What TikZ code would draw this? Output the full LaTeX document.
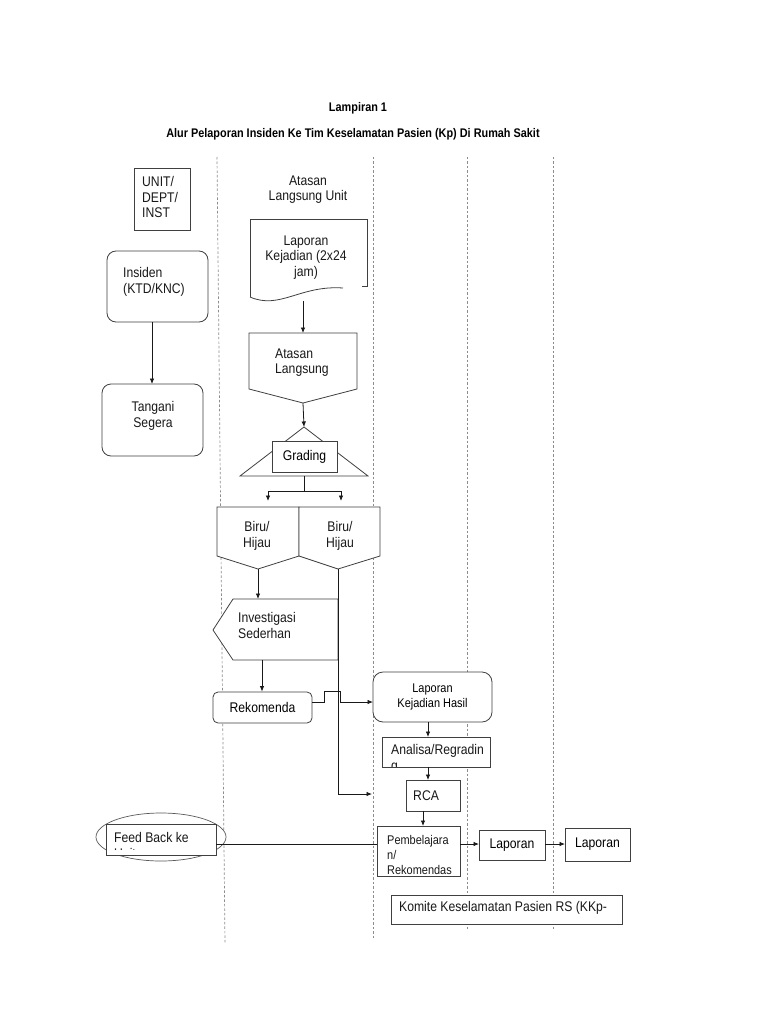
\documentclass[tikz,border=0pt]{standalone}
\usepackage{fontspec}
\setmainfont{Liberation Sans}[FakeStretch=0.87]
\usetikzlibrary{arrows.meta}
\newcommand\bodyf{\fontsize{14}{15.5}\selectfont}
\newcommand\smallf{\fontsize{12.6}{15}\selectfont}
\newcommand\titlef{\fontsize{12.5}{15}\selectfont\bfseries}
\begin{document}
\begin{tikzpicture}[x=1pt,y=-1pt,
  shp/.style={draw=black!75,line width=0.8pt,fill=white},
  rbox/.style={shp,rectangle,inner sep=0pt,font=\bodyf},
  rrbox/.style={rbox,rounded corners=7pt},
  lane/.style={draw=black!45,line width=0.7pt,dash pattern=on 2.5pt off 2pt},
  ln/.style={draw=black!90,line width=0.8pt},
  arr/.style={ln,-{Latex[length=5.5pt,width=4.5pt]}},
  txt/.style={inner sep=0pt,font=\bodyf,align=left,anchor=north west,text=black!90},
  ctxt/.style={inner sep=0pt,font=\bodyf,align=center,anchor=north,text=black!90}]
\useasboundingbox (0,0) rectangle (768,1024);
\fill[white] (0,0) rectangle (768,1024);

% swimlane separators
\coordinate (l1t) at (217,157); \coordinate (l1b) at (225,944);
\coordinate (l2t) at (373,157); \coordinate (l2b) at (373,938);
\coordinate (l3t) at (467,157); \coordinate (l3b) at (467,930);
\coordinate (l4t) at (553,157); \coordinate (l4b) at (553,930);
\draw[lane] (l1t) -- (l1b);
\draw[lane] (l2t) -- (l2b);
\draw[lane] (l3t) -- (l3b);
\draw[lane] (l4t) -- (l4b);

% titles
\node[inner sep=0pt,font=\titlef,anchor=base] (t1) at (358,112) {Lampiran 1};
\node[inner sep=0pt,font=\titlef,anchor=base] (t2) at (353,138) {Alur Pelaporan Insiden Ke Tim Keselamatan Pasien (Kp) Di Rumah Sakit};

% unit column
\node[rbox,minimum width=56,minimum height=62] (unit) at (162,199) {};
\node[txt] (unitT) at (142,176.5) {UNIT/\\DEPT/\\INST};
\node[rrbox,rounded corners=9pt,minimum width=101,minimum height=71] (ins) at (157.5,286.5) {};
\node[txt] (insT) at (123,267.5) {Insiden\\(KTD/KNC)};
\node[rrbox,rounded corners=9pt,minimum width=101,minimum height=72] (tan) at (152.5,420) {};
\node[ctxt] (tanT) at (153,401.5) {Tangani\\Segera};
\coordinate (insB) at (152,322);
\coordinate (tanT0) at (152,384);
\draw[arr] (insB) -- (tanT0);

% header of second lane
\node[ctxt] (hdr) at (308,175.5) {Atasan\\Langsung Unit};

% document shape
\fill[white] (250,219) -- (367,219) -- (367,288) -- (343,288) .. controls (300,285) and (280,310) .. (250,297) -- cycle;
\draw[draw=black!75,line width=0.8pt] (250,297) -- (250,219) -- (367,219) -- (367,286) -- (362,286);
\draw[draw=black!75,line width=0.8pt] (250,297) .. controls (280,310) and (300,285) .. (343,288);
\node[ctxt] (docT) at (306,235.5) {Laporan\\Kejadian (2x24\\jam)};
\coordinate (docB) at (303,301);

% Atasan Langsung (off-page shape)
\draw[shp] (249,333) -- (357,333) -- (357,389) -- (303,403) -- (249,389) -- cycle;
\coordinate (atT) at (303,333);
\coordinate (atB) at (303,403);
\node[txt] (atTx) at (275,348.5) {Atasan\\Langsung};

% Grading
\draw[shp] (304,427) -- (368,476) -- (240,476) -- cycle;
\coordinate (grA) at (304,427);
\coordinate (grB) at (304,476);
\node[rbox,minimum width=65,minimum height=31] (grading) at (304.5,456.5) {Grading};
\coordinate (sp) at (304,491);
\coordinate (spL) at (268,491);
\coordinate (spR) at (341,491);
\coordinate (b1T) at (268,501);
\coordinate (b2T) at (341,501);

% Biru / Hijau
\draw[shp] (217,507) -- (299,507) -- (299,556) -- (258,569) -- (217,556) -- cycle;
\draw[shp] (299,507) -- (380,507) -- (380,556) -- (338,569) -- (299,556) -- cycle;
\node[ctxt] (b1Tx) at (257,521.5) {Biru/\\Hijau};
\node[ctxt] (b2Tx) at (340,521.5) {Biru/\\Hijau};
\coordinate (b1B) at (258,569);
\coordinate (b2B) at (338,569);

% Investigasi
\draw[shp] (213,630) -- (233,599) -- (338,599) -- (338,660) -- (233,660) -- cycle;
\node[txt] (invT) at (238,612.5) {Investigasi\\Sederhan};
\coordinate (invTop) at (258,599);
\coordinate (invB) at (262,660);

% Rekomenda
\node[rrbox,rounded corners=5pt,minimum width=99,minimum height=31] (rek) at (262.5,707.5) {Rekomenda};
\coordinate (rekE) at (312,702);

% Laporan Kejadian Hasil
\node[rrbox,rounded corners=10pt,minimum width=119,minimum height=50,font=\smallf,align=center] (lkh) at (432.5,697) {Laporan\\Kejadian Hasil};
\coordinate (lkhIn) at (373,702);

% Analisa
\node[rbox,minimum width=108,minimum height=30] (ana) at (436,752) {};
\begin{scope}
\clip (382,737) rectangle (490,766);
\node[txt] (anaT) at (391,744.5) {Analisa/Regradin\\g};
\end{scope}

% RCA
\node[rbox,minimum width=54,minimum height=31] (rca) at (433,795.5) {};
\node[txt] (rcaT) at (413,791) {RCA};
\coordinate (rcaIn) at (372,794);

% Pembelajaran
\node[rbox,minimum width=83,minimum height=50] (pem) at (418.5,851) {};
\node[txt,font=\smallf] (pemT) at (387,835.5) {Pembelajara\\n/\\Rekomendas};

% Laporan boxes
\node[rbox,minimum width=66,minimum height=30] (lap1) at (512,845) {Laporan};
\node[rbox,minimum width=65,minimum height=33] (lap2) at (597.5,844.5) {Laporan};

% Feed back
\draw[draw=black!65,line width=0.7pt,fill=white] (161,837) ellipse [x radius=65, y radius=24];
\node[rbox,minimum width=110,minimum height=31] (fb) at (161,839.5) {};
\begin{scope}
\clip (106,824) rectangle (216,849);
\node[txt] (fbT) at (114,832.5) {Feed Back ke\\Unit};
\end{scope}

% Komite
\node[rbox,minimum width=231,minimum height=29] (kom) at (506.5,909.5) {};
\node[txt] (komT) at (399,901.5) {Komite Keselamatan Pasien RS (KKp-};

% connectors
\draw[arr] (docB) -- (atT);
\draw[arr] (atB) -- (grA);
\draw[ln] (grB) -- (sp);
\draw[ln] (spL) -- (spR);
\draw[arr] (spL) -- (b1T);
\draw[arr] (spR) -- (b2T);
\draw[arr] (b1B) -- (invTop);
\draw[arr] (invB) -- (invB |- rek.north);
\coordinate (j1) at (324,702);
\coordinate (j2) at (324,691);
\coordinate (j3) at (340,691);
\coordinate (j4) at (340,702);
\draw[arr] (rekE) -- (j1) -- (j2) -- (j3) -- (j4) -- (lkhIn);
\coordinate (b2D) at (338,794);
\draw[arr] (b2B) -- (b2D) -- (rcaIn);
\coordinate (a1) at (428,722); \coordinate (a2) at (428,737);
\coordinate (a3) at (428,767); \coordinate (a4) at (428,780);
\coordinate (a5) at (423,811); \coordinate (a6) at (423,826);
\draw[arr] (a1) -- (a2);
\draw[arr] (a3) -- (a4);
\draw[arr] (a5) -- (a6);
\coordinate (fbE) at (216,844); \coordinate (pemW) at (377,844);
\draw[ln] (fbE) -- (pemW);
\coordinate (pemE) at (460,844); \coordinate (lap1W) at (479,844);
\coordinate (lap1E) at (545,844); \coordinate (lap2W) at (565,844);
\draw[arr] (pemE) -- (lap1W);
\draw[arr] (lap1E) -- (lap2W);
\end{tikzpicture}
\end{document}
